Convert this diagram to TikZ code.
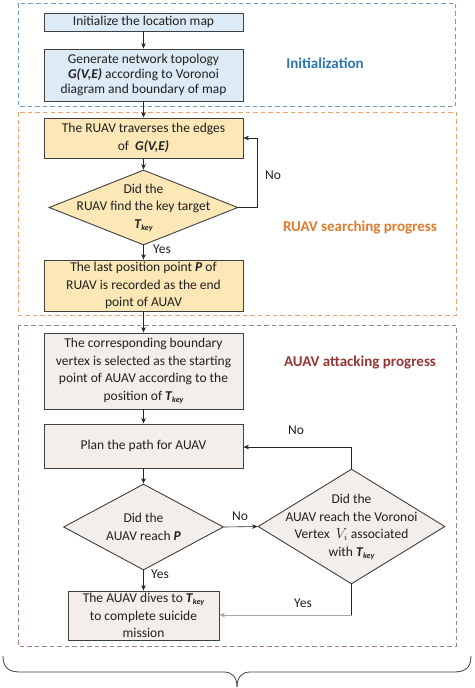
\documentclass[tikz,border=0pt]{standalone}
\usepackage{fontspec}
\setmainfont{Carlito}
\usetikzlibrary{shapes.geometric,arrows.meta}
\definecolor{initfill}{HTML}{DDEBF6}
\definecolor{ruavfill}{HTML}{FCE7B6}
\definecolor{auavfill}{HTML}{F3EEEA}
\definecolor{initframe}{HTML}{6F9CC4}
\definecolor{ruavframe}{HTML}{EFA46E}
\definecolor{auavframe}{HTML}{A07F7F}
\definecolor{initlab}{HTML}{2E75B6}
\definecolor{ruavlab}{HTML}{E07A2E}
\definecolor{auavlab}{HTML}{943634}
\definecolor{boxline}{HTML}{404040}
\definecolor{txt}{HTML}{202020}
\newcommand{\Tkey}{\textbf{\textit{T\kern0.3pt\raisebox{-0.35ex}{\footnotesize key}}}}
\newcommand{\bi}[1]{\textbf{\textit{#1}}}
\begin{document}
\begin{tikzpicture}[x=1pt,y=-1pt,
  txtfont/.style={font=\fontsize{13.5}{17.5}\selectfont, text=txt},
  box/.style={draw=boxline, line width=0.9pt, minimum width=199pt, inner sep=0pt, align=center, txtfont},
  dia/.style={diamond, draw=boxline, line width=0.9pt, inner sep=0pt},
  dtext/.style={align=center, inner sep=0pt, txtfont},
  frame/.style={line width=0.9pt, dash pattern=on 4.5pt off 3pt},
  grouplab/.style={font=\fontsize{15}{18}\selectfont\bfseries},
  arr/.style={-{Stealth[length=5.5pt,width=4.5pt]}, line width=0.6pt, draw=black!85},
  elab/.style={inner sep=0pt, txtfont}]
\useasboundingbox (0,0) rectangle (474,688);
% frames
\draw[frame, draw=initframe] (18,3) rectangle (455,106);
\draw[frame, draw=ruavframe] (18,112) rectangle (456,315);
\draw[frame, draw=auavframe] (18,325) rectangle (456,646);
\node[grouplab, text=initlab] (L1) at (325,63) {Initialization};
\node[grouplab, text=ruavlab] (L2) at (360,228) {RUAV searching progress};
\node[grouplab, text=auavlab] (L3) at (360,363) {AUAV attacking progress};
% nodes
\node[box, fill=initfill, minimum height=18pt] (b1) at (143.5,22) {Initialize the location map};
\node[box, fill=initfill, minimum height=52pt, font=\fontsize{13.5}{14.6}\selectfont] (b2) at (143.5,75) {Generate network topology\\ \bi{G(V,E)} according to Voronoi\\ diagram and boundary of map};
\node[box, fill=ruavfill, minimum height=40pt] (b3) at (143.5,138) {The RUAV traverses the edges\\ of \ \bi{G(V,E)}};
\node[dia, fill=ruavfill, minimum width=189pt, minimum height=75pt] (d1) at (143.5,207.5) {};
\node[dtext] (d1t) at (143.5,208) {Did the\\ RUAV find the key target\\ \Tkey};
\node[box, fill=ruavfill, minimum height=51pt] (b4) at (143.5,285.5) {The last position point \bi{P} of\\ RUAV is recorded as the end\\ point of AUAV};
\node[box, fill=auavfill, minimum height=76pt] (b5) at (143.5,371) {The corresponding boundary\\ vertex is selected as the starting\\ point of AUAV according to the\\ position of \Tkey};
\node[box, fill=auavfill, minimum height=44pt] (b6) at (143.5,446) {Plan the path for AUAV};
\node[dia, fill=auavfill, minimum width=160pt, minimum height=86pt] (d2) at (143.5,527) {};
\node[dtext] (d2t) at (143.5,527) {Did the\\ AUAV reach \bi{P}};
\node[dia, fill=auavfill, minimum width=187pt, minimum height=115pt] (d3) at (351.5,526.5) {};
\node[dtext] (d3t) at (351.5,527) {Did the\\ AUAV reach the Voronoi\\ Vertex \ $V_i$ associated\\ with \Tkey};
\node[box, fill=auavfill, minimum width=151pt, minimum height=49pt] (b7) at (143.5,615.5) {The AUAV dives to \Tkey\\ to complete suicide\\ mission};
% connectors
\coordinate (c1) at (257,207.5);
\coordinate (c2) at (257,138);
\coordinate (c3) at (351.5,447);
\coordinate (c4) at (351.5,615);
\draw[arr] (b1) -- (b2);
\draw[arr] (b2) -- (b3);
\draw[arr] (b3) -- (d1);
\draw[arr] (d1) -- (b4);
\draw[arr] (d1.east) -- (c1) -- (c2) -- (b3.east);
\draw[arr] (b4) -- (b5);
\draw[arr] (b5) -- (b6);
\draw[arr] (b6) -- (d2);
\draw[arr] (d2) -- (b7);
\draw[arr] (d2.east) -- (d3.west);
\draw[arr] (d3.north) -- (c3) -- (b6.east |- c3);
\draw[line width=0.6pt, draw=black!85] (d3.south) -- (c4);
\draw[arr, draw=black!35] (c4) -- (b7.east |- c4);
% edge labels
\node[elab] (y1) at (162,249) {Yes};
\node[elab] (n1) at (273,175) {No};
\node[elab] (n2) at (240,516) {No};
\node[elab] (n3) at (296,430) {No};
\node[elab] (y2) at (160,574) {Yes};
\node[elab] (y3) at (303,603) {Yes};
% brace
\draw[line width=0.8pt, draw=boxline] (3,656) .. controls (3,667) and (8,672) .. (20,672) -- (224,672) .. controls (232,672) and (237,677) .. (237,687);
\draw[line width=0.8pt, draw=boxline] (471,656) .. controls (471,667) and (466,672) .. (454,672) -- (250,672) .. controls (242,672) and (237,677) .. (237,687);
\end{tikzpicture}
\end{document}
